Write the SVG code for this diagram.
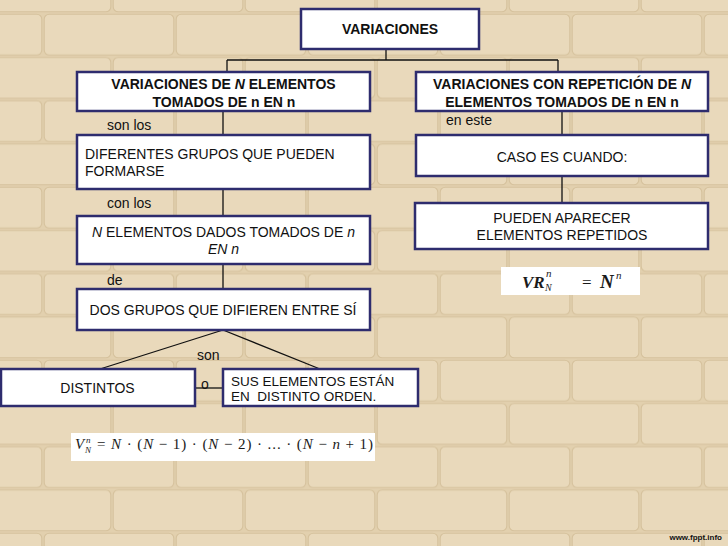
<svg xmlns="http://www.w3.org/2000/svg" width="728" height="546" viewBox="0 0 728 546">
<defs>
<style>
.box{fill:#fff;stroke:#2e2c6e;stroke-width:2.5}
.t{font-family:"Liberation Sans",Arial,sans-serif;font-size:14px;fill:#111}
.b{font-weight:bold}
.c{text-anchor:middle}
.i{font-style:italic}
.conn{stroke:#111;stroke-width:1.3;fill:none}
.m{font-family:"Liberation Serif","Times New Roman",serif;fill:#1a1a1a}
.mi{font-style:italic}
.fbg{fill:#fff}
.brick{fill:#e9d9bb;stroke:#d6c29d;stroke-width:1.1}
</style>
<pattern id="bricks" patternUnits="userSpaceOnUse" x="43" y="13" width="264" height="86.5">
<rect width="264" height="86.5" fill="#e2d0ae"/>
<rect class="brick" x="1.2" y="1.2" width="129.6" height="40.8" rx="5"/>
<rect class="brick" x="133.2" y="1.2" width="129.6" height="40.8" rx="5"/>
<rect class="brick" x="-61.8" y="44.5" width="129.6" height="40.8" rx="5"/>
<rect class="brick" x="70.2" y="44.5" width="129.6" height="40.8" rx="5"/>
<rect class="brick" x="202.2" y="44.5" width="129.6" height="40.8" rx="5"/>
</pattern>
</defs>
<rect width="728" height="546" fill="url(#bricks)"/>

<g id="connectors">
<path class="conn" d="M386 49V60M227 60H558M227 60V72M558 60V72"/>
<path class="conn" d="M223 111V135M223 189V216M223 264V289"/>
<path class="conn" d="M562 111V135M562 176V203"/>
<path class="conn" d="M223 330L100 369M223 330L320 369"/>
<path class="conn" d="M195 388H223"/>
<text class="t" x="107" y="130">son los</text>
<text class="t" x="446" y="125">en este</text>
<text class="t" x="107" y="208">con los</text>
<text class="t" x="107" y="285">de</text>
<text class="t" x="197" y="360">son</text>
<text class="t c" x="205" y="389">o</text>
</g>

<g id="n-variaciones">
<rect class="box" x="301" y="9" width="178" height="40"/>
<text class="t b c" x="390" y="34">VARIACIONES</text>
</g>

<g id="n-variaciones-n">
<rect class="box" x="77" y="72" width="293" height="39"/>
<text class="t b c" x="223.5" y="89">VARIACIONES DE <tspan class="i">N</tspan> ELEMENTOS</text>
<text class="t b c" x="224" y="107">TOMADOS DE n EN n</text>
</g>

<g id="n-variaciones-rep">
<rect class="box" x="416" y="72" width="292" height="39"/>
<text class="t b c" x="562" y="89">VARIACIONES CON REPETICIÓN DE <tspan class="i">N</tspan></text>
<text class="t b c" x="562" y="107">ELEMENTOS TOMADOS DE n EN n</text>
</g>

<g id="n-diferentes">
<rect class="box" x="77" y="135" width="293" height="54"/>
<text class="t" x="85" y="159">DIFERENTES GRUPOS QUE PUEDEN</text>
<text class="t" x="85" y="176">FORMARSE</text>
</g>

<g id="n-caso">
<rect class="box" x="416" y="135" width="292" height="41"/>
<text class="t c" x="562" y="162">CASO ES CUANDO:</text>
</g>

<g id="n-pueden">
<rect class="box" x="415" y="203" width="293" height="46"/>
<text class="t c" x="562" y="223">PUEDEN APARECER</text>
<text class="t c" x="562" y="240">ELEMENTOS REPETIDOS</text>
</g>

<g id="n-formula-vr">
<rect class="fbg" x="501" y="267" width="139" height="28"/>
<text class="m mi" x="522" y="288" font-size="17" font-weight="bold">VR</text>
<text class="m mi" x="546" y="277" font-size="11">n</text>
<text class="m mi" x="545" y="291" font-size="10">N</text>
<text class="m" x="582" y="288" font-size="17">=</text>
<text class="m mi" x="600" y="288" font-size="19" font-weight="bold">N</text>
<text class="m mi" x="616" y="279" font-size="11">n</text>
</g>

<g id="n-elementos">
<rect class="box" x="77" y="216" width="293" height="48"/>
<text class="t c" x="223.5" y="237"><tspan class="i">N</tspan> ELEMENTOS DADOS TOMADOS DE <tspan class="i">n</tspan></text>
<text class="t c i" x="223.5" y="254">EN n</text>
</g>

<g id="n-dos-grupos">
<rect class="box" x="77" y="289" width="293" height="41"/>
<text class="t c" x="223" y="315">DOS GRUPOS QUE DIFIEREN ENTRE SÍ</text>
</g>

<g id="n-distintos">
<rect class="box" x="1" y="369" width="194" height="37"/>
<text class="t c" x="97.5" y="393">DISTINTOS</text>
</g>

<g id="n-sus-elementos">
<rect class="box" x="223" y="369" width="195" height="37"/>
<text class="t" x="231" y="386" style="font-size:13.5px">SUS ELEMENTOS ESTÁN</text>
<text class="t" x="231" y="401" style="font-size:13.5px">EN&#160; DISTINTO ORDEN.</text>
</g>

<g id="n-formula-v">
<rect class="fbg" x="71" y="433" width="304" height="28"/>
<text class="m mi" x="75" y="449" font-size="15">V</text>
<text class="m mi" x="86" y="443" font-size="9">n</text>
<text class="m mi" x="85" y="453" font-size="9">N</text>
<text class="m" x="97" y="449" font-size="15" textLength="276" lengthAdjust="spacing">= <tspan class="mi">N</tspan> · (<tspan class="mi">N</tspan> − 1) · (<tspan class="mi">N</tspan> − 2) · ... · (<tspan class="mi">N</tspan> − <tspan class="mi">n</tspan> + 1)</text>
</g>

<text class="t b" x="722" y="540" text-anchor="end" style="font-size:8px">www.fppt.info</text>
</svg>
